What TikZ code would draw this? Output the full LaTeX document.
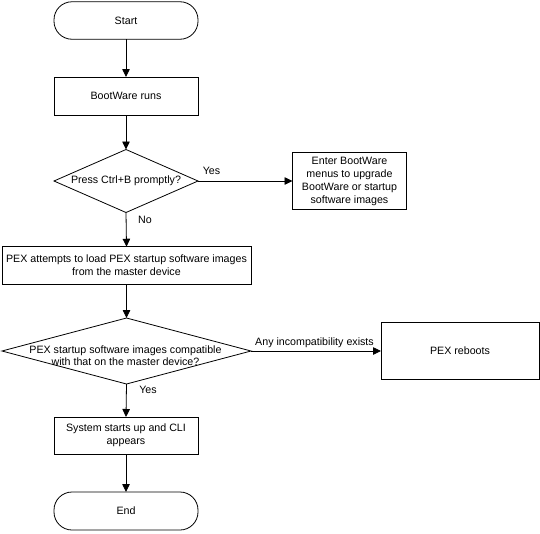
\documentclass[tikz,border=0pt]{standalone}
\usepackage{fontspec}
\setmainfont{Liberation Sans}
\usetikzlibrary{shapes.geometric,arrows.meta}
\begin{document}
\begin{tikzpicture}[x=1pt,y=-1pt,
  every node/.style={font=\fontsize{10.67}{13}\selectfont, inner sep=0pt, outer sep=0pt},
  term/.style={draw, line width=0.8pt, rounded corners=18pt, minimum width=144pt, minimum height=37.5pt},
  proc/.style={draw, line width=0.8pt, align=center},
  dia/.style={draw, diamond, line width=0.8pt},
  conn/.style={line width=0.8pt, -{Triangle[length=8pt,width=7.5pt]}},
  lbl/.style={}]
\useasboundingbox (0,0) rectangle (540,533);
\node[term] (start) at (126,20.5) {Start};
\node[proc, minimum width=144pt, minimum height=38pt] (boot) at (126,96) {BootWare runs};
\node[dia, minimum width=144pt, minimum height=63pt] (d1) at (126,181) {};
\node (d1t) at (d1.center) {Press Ctrl+B promptly?};
\node[proc, minimum width=114pt, minimum height=57pt] (enter) at (349.5,181) {Enter BootWare\\menus to upgrade\\BootWare or startup\\software images};
\node[proc, minimum width=249pt, minimum height=37.5pt] (pex) at (126.5,265.5) {PEX attempts to load PEX startup software images\\from the master device};
\node[dia, minimum width=249pt, minimum height=66pt] (d2) at (126.5,351) {};
\node[align=center, font=\fontsize{10.67}{12.3}\selectfont] (d2t) at (125.5,356) {PEX startup software images compatible\\with that on the master device?};
\node[proc, minimum width=158pt, minimum height=57pt] (reboot) at (460,351) {PEX reboots};
\node[proc, minimum width=144pt, minimum height=37pt] (sys) at (126,435.5) {System starts up and CLI\\appears};
\node[term, minimum height=38pt] (end) at (126,511) {End};
\draw[conn] (start) -- (boot);
\draw[conn] (boot) -- (d1);
\draw[conn] (d1.east) -- (enter.west);
\draw[conn] (d1.south) -- (pex.north);
\draw[conn] (pex) -- (d2);
\draw[conn] (d2.east) -- (reboot.west);
\draw[conn] (d2.south) -- (sys.north);
\draw[conn] (sys) -- (end);
\node[lbl] (yes1) at (211.5,171) {Yes};
\node[lbl] (no1) at (145,220) {No};
\node[lbl] (any) at (314.5,342.5) {Any incompatibility exists};
\node[lbl] (yes2) at (148,390) {Yes};
\end{tikzpicture}
\end{document}
